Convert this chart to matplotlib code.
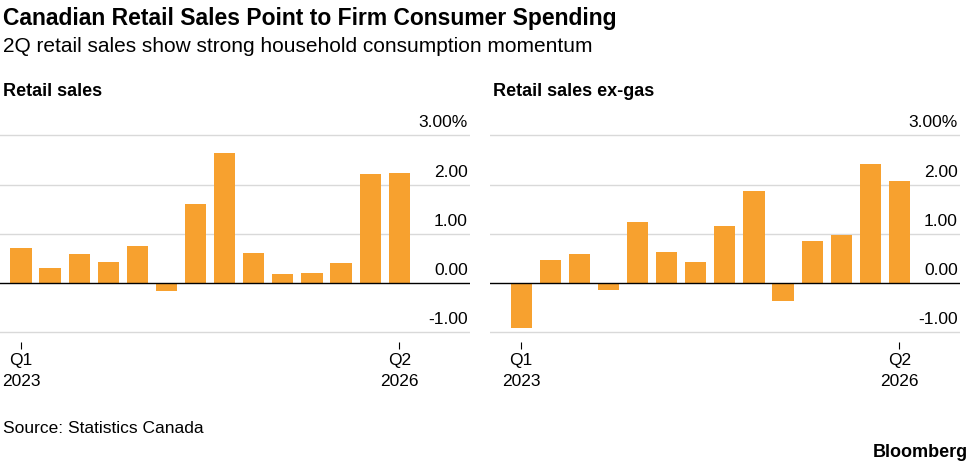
import numpy as np
import matplotlib.pyplot as plt
from matplotlib.transforms import blended_transform_factory

quarters = np.arange(14)
retail = [0.71, 0.30, 0.59, 0.43, 0.75, -0.17, 1.60, 2.64, 0.61, 0.18, 0.20, 0.41, 2.21, 2.23]
retail_ex_gas = [-0.91, 0.47, 0.59, -0.15, 1.24, 0.63, 0.43, 1.16, 1.87, -0.37, 0.85, 0.97, 2.41, 2.07]
ytick_vals = [-1, 0, 1, 2, 3]
ytick_labels = ['-1.00', '0.00', '1.00', '2.00', '3.00%']

W, H = 974, 469
fig = plt.figure(figsize=(W / 100, H / 100), dpi=100)
fig.patch.set_facecolor('white')
plt.rcParams['font.family'] = ['Liberation Sans', 'DejaVu Sans']

fig.text(3 / W, 1 - 18 / H, 'Canadian Retail Sales Point to Firm Consumer Spending',
         fontsize=16.5, fontweight='bold', va='center')
fig.text(3 / W, 1 - 46 / H, '2Q retail sales show strong household consumption momentum',
         fontsize=15, va='center')
fig.text(3 / W, 1 - 428 / H, 'Source: Statistics Canada', fontsize=12.5, va='center')
fig.text(968 / W, 1 - 452 / H, 'Bloomberg', fontsize=13, fontweight='bold',
         va='center', ha='right')

orange = '#f7a12f'
panels = [(0, 'Retail sales', retail, -0.72), (490, 'Retail sales ex-gas', retail_ex_gas, -1.07)]
top, bottom = 123, 342
for x0, title, vals, xl in panels:
    ax = fig.add_axes([x0 / W, 1 - bottom / H, 470 / W, (bottom - top) / H])
    fig.text((x0 + 3) / W, 1 - 91 / H, title, fontsize=13, fontweight='bold', va='center')
    ax.set_xlim(xl, xl + 470 / 29.1)
    ax.set_ylim(-1.2, 3.25)
    for v in ytick_vals:
        ax.axhline(v, color='black' if v == 0 else '#d9d9d9', lw=1, zorder=3 if v == 0 else 0)
    ax.bar(quarters, vals, width=0.73, color=orange, zorder=2)
    tr = blended_transform_factory(ax.transAxes, ax.transData)
    for v, lab in zip(ytick_vals, ytick_labels):
        ax.text(0.995, v + 0.1, lab, transform=tr, ha='right', va='bottom', fontsize=12.5)
    for s in ax.spines.values():
        s.set_visible(False)
    ax.set_yticks([])
    ax.set_xticks([0, 13])
    ax.set_xticklabels(['Q1\n2023', 'Q2\n2026'], fontsize=12.5, linespacing=1.5)
    ax.tick_params(axis='x', length=5, color='black', pad=3)

fig.savefig('out.png', dpi=100)
